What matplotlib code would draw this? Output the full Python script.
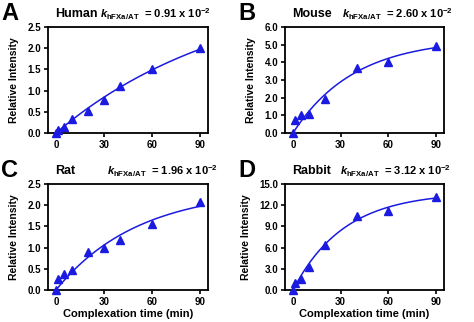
import matplotlib.pyplot as plt
import numpy as np

plt.rcParams['font.family'] = ['Liberation Sans', 'DejaVu Sans']
plt.rcParams['font.weight'] = 'bold'
plt.rcParams['mathtext.fontset'] = 'custom'
plt.rcParams['mathtext.rm'] = 'Liberation Sans:bold'
plt.rcParams['mathtext.bf'] = 'Liberation Sans:bold'
plt.rcParams['mathtext.it'] = 'Liberation Sans:bold:italic'

# data
letters = ["A", "B", "C", "D"]
species = ["Human", "Mouse", "Rat", "Rabbit"]
k_labels = ["0.91", "2.60", "1.96", "3.12"]
k_values = [0.0091, 0.0260, 0.0196, 0.0312]

t_human = [0, 1, 5, 10, 20, 30, 40, 60, 90]
y_human = [0.0, 0.07, 0.13, 0.32, 0.53, 0.78, 1.10, 1.50, 2.00]
t_mouse = [0, 1, 5, 10, 20, 40, 60, 90]
y_mouse = [0.0, 0.72, 1.0, 1.1, 1.9, 3.7, 4.0, 4.95]
t_rat = [0, 1, 5, 10, 20, 30, 40, 60, 90]
y_rat = [0.0, 0.27, 0.37, 0.48, 0.90, 1.00, 1.18, 1.55, 2.08]
t_rabbit = [0, 1, 5, 10, 20, 40, 60, 90]
y_rabbit = [0.0, 1.0, 1.6, 3.3, 6.4, 10.5, 11.2, 13.2]

times = [t_human, t_mouse, t_rat, t_rabbit]
values = [y_human, y_mouse, y_rat, y_rabbit]
y_ticks = [np.arange(0, 2.51, 0.5), np.arange(0, 6.01, 1.0),
           np.arange(0, 2.51, 0.5), np.arange(0, 15.01, 3.0)]

# axes boxes in pixels: left, top, right, bottom
boxes = [(48, 27, 208, 133), (285, 27, 444, 133),
         (48, 184, 208, 290), (285, 184, 444, 290)]
k_x = [100, 342, 107, 340]
W, H = 474, 322
blue = '#1a1ae0'

fig = plt.figure(figsize=(W / 100, H / 100), dpi=100)

for i in range(4):
    l, t, r, b = boxes[i]
    ax = fig.add_axes([l / W, 1 - b / H, (r - l) / W, (b - t) / H])
    tt = np.array(times[i], dtype=float)
    yy = np.array(values[i])
    k = k_values[i]
    f = 1 - np.exp(-k * tt)
    ymax = np.sum(yy * f) / np.sum(f * f)
    tc = np.linspace(0, 90, 200)
    ax.plot(tc, ymax * (1 - np.exp(-k * tc)), color=blue, lw=1.1)
    ax.plot(tt, yy, '^', color=blue, ms=6, clip_on=False, zorder=3)
    ax.set_xlim(-5, 95)
    ax.set_xticks([0, 30, 60, 90])
    ax.set_ylim(0, y_ticks[i][-1])
    ax.set_yticks(y_ticks[i])
    ax.set_yticklabels([f"{v:.1f}" for v in y_ticks[i]])
    ax.tick_params(labelsize=7, width=1.2, length=3, pad=2)
    for s in ax.spines.values():
        s.set_linewidth(1.3)
    ax.set_ylabel("Relative Intensity", fontsize=7.5, fontweight='bold', labelpad=6)
    if i >= 2:
        ax.set_xlabel("Complexation time (min)", fontsize=8, fontweight='bold', labelpad=1.5)

    ty = t - 13
    fig.text((l - 47) / W, 1 - ty / H, letters[i], fontsize=17, fontweight='bold',
             va='center', ha='left')
    fig.text((l + 7) / W, 1 - ty / H, species[i], fontsize=9, fontweight='bold',
             va='center', ha='left')
    fig.text(k_x[i] / W, 1 - ty / H,
             r"$k_{\mathrm{hFXa/AT}}$" + "  = " + k_labels[i] + r" x 10$^{\mathrm{-2}}$",
             fontsize=8, fontweight='bold', va='center', ha='left')

fig.savefig("out.png", dpi=100)
